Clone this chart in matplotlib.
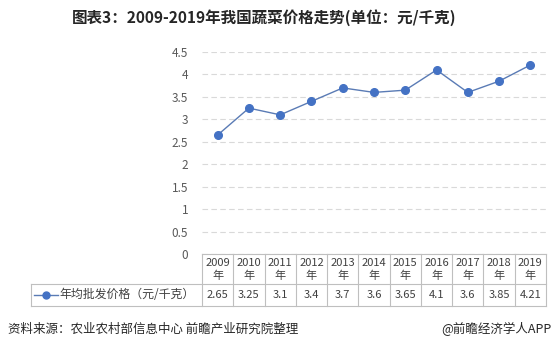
import matplotlib
matplotlib.use('Agg')
import matplotlib.pyplot as plt
from matplotlib.lines import Line2D
from matplotlib.transforms import blended_transform_factory

plt.rcParams['font.family'] = ['Noto Sans CJK SC', 'DejaVu Sans']

# data
years = ['2009', '2010', '2011', '2012', '2013', '2014', '2015', '2016', '2017', '2018', '2019']
price = [2.65, 3.25, 3.1, 3.4, 3.7, 3.6, 3.65, 4.1, 3.6, 3.85, 4.21]
price_labels = ['2.65', '3.25', '3.1', '3.4', '3.7', '3.6', '3.65', '4.1', '3.6', '3.85', '4.21']
series_name = '年均批发价格（元/千克）'
title = '图表3：2009-2019年我国蔬菜价格走势(单位：元/千克)'
source = '资料来源：农业农村部信息中心 前瞻产业研究院整理'
credit = '@前瞻经济学人APP'

W, H = 555, 355
fig = plt.figure(figsize=(W / 100, H / 100), dpi=100)

# plot area in pixel coords
px_left, px_right, px_top, px_bottom = 202, 546, 52, 254
ax = fig.add_axes([px_left / W, 1 - px_bottom / H,
                   (px_right - px_left) / W, (px_bottom - px_top) / H])

x = list(range(len(years)))
ax.plot(x, price, color='#5A7BB5', lw=1.0, marker='o', ms=5.5,
        mfc='#4472C4', mec='#4472C4', zorder=3)

ax.set_xlim(-0.5, len(years) - 0.5)
ax.set_ylim(0, 4.5)
ax.set_yticks([i * 0.5 for i in range(10)])
ax.set_yticklabels(['0', '0.5', '1', '1.5', '2', '2.5', '3', '3.5', '4', '4.5'])
ax.tick_params(axis='y', length=0, labelsize=8.5, labelcolor='#595959', pad=10)
ax.set_xticks([])
ax.grid(axis='y', color='#D9D9D9', ls=(0, (5, 3)), lw=0.8)
for s in ax.spines.values():
    s.set_visible(False)

# data table under the chart
tr = blended_transform_factory(ax.transData, ax.transAxes)
plot_h = px_bottom - px_top
px_per_cat = (px_right - px_left) / len(years)
y_top = 0
y_mid = -30 / plot_h
y_bot = -52 / plot_h
x_left_cell = -0.5 - (px_left - 31) / px_per_cat
x_right = len(years) - 0.5
grid_c = '#BFBFBF'
lw = 0.8

def hline(y, x0, x1):
    ax.add_line(Line2D([x0, x1], [y, y], transform=tr, color=grid_c, lw=lw, clip_on=False))

def vline(xx, y0, y1):
    ax.add_line(Line2D([xx, xx], [y0, y1], transform=tr, color=grid_c, lw=lw, clip_on=False))

hline(y_top, -0.5, x_right)
hline(y_mid, x_left_cell, x_right)
hline(y_bot, x_left_cell, x_right)
vline(x_left_cell, y_mid, y_bot)
for i in range(len(years) + 1):
    vline(i - 0.5, y_top, y_bot)

for i, (yr, v) in enumerate(zip(years, price_labels)):
    ax.text(i, y_top - 9 / plot_h, yr, transform=tr, ha='center', va='center',
            fontsize=8, color='#404040')
    ax.text(i, y_top - 22 / plot_h, '年', transform=tr, ha='center', va='center',
            fontsize=8, color='#404040')
    ax.text(i, (y_mid + y_bot) / 2, v, transform=tr, ha='center', va='center',
            fontsize=8, color='#404040')

# legend key in the row header
ym = (y_mid + y_bot) / 2
k0 = x_left_cell + 3 / px_per_cat
k1 = x_left_cell + 27 / px_per_cat
ax.add_line(Line2D([k0, k1], [ym, ym], transform=tr, color='#5A7BB5', lw=1.0, clip_on=False))
ax.add_line(Line2D([(k0 + k1) / 2], [ym], transform=tr, marker='o', ms=5,
                   mfc='#4472C4', mec='#4472C4', clip_on=False))
ax.text(k1 + 1 / px_per_cat, ym, series_name, transform=tr, ha='left', va='center',
        fontsize=8.6, color='#404040')

fig.text(264 / W, 1 - 18 / H, title, ha='center', va='center',
         fontsize=11.2, fontweight='bold', color='#262626')
fig.text(8 / W, 1 - 329 / H, source, ha='left', va='center', fontsize=9, color='#262626')
fig.text(551 / W, 1 - 329 / H, credit, ha='right', va='center', fontsize=9, color='#262626')

fig.savefig('out.png', dpi=100)
